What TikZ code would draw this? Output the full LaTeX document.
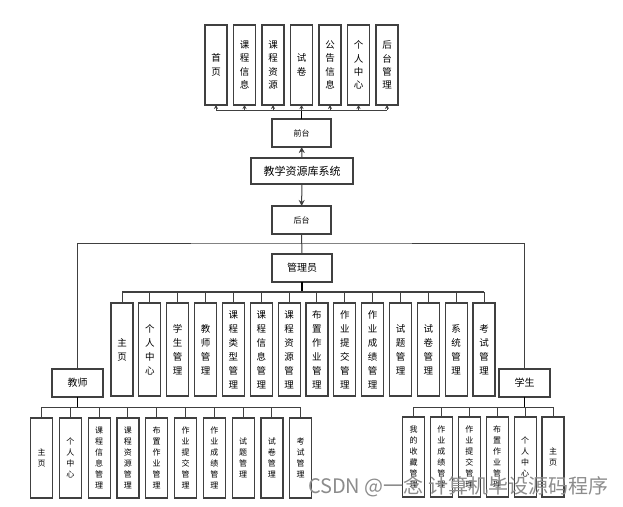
\documentclass[tikz,border=0pt]{standalone}
\usepackage{fontspec}
\newfontfamily\cjk{Noto Sans CJK SC}
\usetikzlibrary{arrows.meta, positioning, calc}

\begin{document}
\begin{tikzpicture}[x=1pt, y=-1pt,
    every node/.style={font=\cjk, inner sep=1pt, outer sep=0pt},
    framebox/.style={draw=black!75, line width=1.2pt, fill=white, align=center},
    sysbox/.style={framebox, minimum width=102pt, minimum height=26pt, font=\cjk\fontsize{11}{13}\selectfont},
    portbox/.style={framebox, minimum width=59pt, minimum height=28pt, font=\cjk\fontsize{8}{10}\selectfont},
    rolebox/.style={framebox, minimum height=28pt, font=\cjk\fontsize{10}{12}\selectfont},
    topfunc/.style={framebox, minimum width=22pt, minimum height=80pt, font=\cjk\fontsize{9.5}{13.3}\selectfont},
    adminfunc/.style={framebox, minimum width=22pt, minimum height=93pt, font=\cjk\fontsize{9.5}{14}\selectfont},
    userfunc/.style={framebox, minimum width=22pt, minimum height=80pt, font=\cjk\fontsize{8}{11}\selectfont},
    link/.style={draw=black!75, line width=1pt},
    trunk/.style={draw=black, line width=1.7pt}]
    \useasboundingbox (0,0) rectangle (623,506);

    % 系统 / 前台 / 后台
    \node[sysbox] (sys) at (302,171) {教学资源库系统};
    \node[portbox] (qt) at (301.5,133) {前台};
    \node[portbox] (ht) at (301.5,220) {后台};
    \draw[link, -{Stealth[length=6pt,width=6pt]}] (sys) -- (qt);
    \draw[link, -{Stealth[length=6pt,width=6pt]}] (sys) -- (ht);

    % 前台功能
    \node[topfunc] (f1) at (216,65) {首\\页};
    \node[topfunc] (f2) [right=6.5pt of f1] {课\\程\\信\\息};
    \node[topfunc] (f3) [right=6.5pt of f2] {课\\程\\资\\源};
    \node[topfunc] (f4) [right=6.5pt of f3] {试\\卷};
    \node[topfunc] (f5) [right=6.5pt of f4] {公\\告\\信\\息};
    \node[topfunc] (f6) [right=6.5pt of f5] {个\\人\\中\\心};
    \node[topfunc] (f7) [right=6.5pt of f6] {后\\台\\管\\理};

    \coordinate (fbus) at (301.5,110);
    \draw[trunk] (qt.north) -- (qt.north |- fbus);
    \draw[link] (f1.south |- fbus) -- (f7.south |- fbus);
    \foreach \i in {1,...,7}
        \draw[link, -{Stealth[length=4pt,width=4pt]}] (f\i.south |- fbus) -- (f\i.south);

    % 角色
    \node[rolebox, minimum width=60pt] (gly) at (302,268) {管理员};
    \node[rolebox, minimum width=51pt] (js) at (77.5,383) {教师};
    \node[rolebox, minimum width=51pt] (xs) at (524.5,383) {学生};

    \coordinate (rbus) at (302,243);
    \draw[link] (ht.south) -- (gly.north);
    \draw[link] (js.north) |- (rbus) -| (xs.north);

    % 管理员功能
    \node[adminfunc] (a1) at (122,349.5) {主\\页};
    \node[adminfunc] (a2) [right=5.85pt of a1] {个\\人\\中\\心};
    \node[adminfunc] (a3) [right=5.85pt of a2] {学\\生\\管\\理};
    \node[adminfunc] (a4) [right=5.85pt of a3] {教\\师\\管\\理};
    \node[adminfunc] (a5) [right=5.85pt of a4] {课\\程\\类\\型\\管\\理};
    \node[adminfunc] (a6) [right=5.85pt of a5] {课\\程\\信\\息\\管\\理};
    \node[adminfunc] (a7) [right=5.85pt of a6] {课\\程\\资\\源\\管\\理};
    \node[adminfunc] (a8) [right=5.85pt of a7] {布\\置\\作\\业\\管\\理};
    \node[adminfunc] (a9) [right=5.85pt of a8] {作\\业\\提\\交\\管\\理};
    \node[adminfunc] (a10) [right=5.85pt of a9] {作\\业\\成\\绩\\管\\理};
    \node[adminfunc] (a11) [right=5.85pt of a10] {试\\题\\管\\理};
    \node[adminfunc] (a12) [right=5.85pt of a11] {试\\卷\\管\\理};
    \node[adminfunc] (a13) [right=5.85pt of a12] {系\\统\\管\\理};
    \node[adminfunc] (a14) [right=5.85pt of a13] {考\\试\\管\\理};

    \coordinate (abus) at (302,292);
    \draw[trunk] (gly.south) -- (abus);
    \draw[link, line width=1.3pt] (a1.north |- abus) -- (a14.north |- abus);
    \foreach \i in {1,...,14}
        \draw[link] (a\i.north |- abus) -- (a\i.north);

    % 教师功能
    \node[userfunc] (k1) at (41.5,458) {主\\页};
    \node[userfunc] (k2) [right=6.8pt of k1] {个\\人\\中\\心};
    \node[userfunc] (k3) [right=6.8pt of k2] {课\\程\\信\\息\\管\\理};
    \node[userfunc] (k4) [right=6.8pt of k3] {课\\程\\资\\源\\管\\理};
    \node[userfunc] (k5) [right=6.8pt of k4] {布\\置\\作\\业\\管\\理};
    \node[userfunc] (k6) [right=6.8pt of k5] {作\\业\\提\\交\\管\\理};
    \node[userfunc] (k7) [right=6.8pt of k6] {作\\业\\成\\绩\\管\\理};
    \node[userfunc] (k8) [right=6.8pt of k7] {试\\题\\管\\理};
    \node[userfunc] (k9) [right=6.8pt of k8] {试\\卷\\管\\理};
    \node[userfunc] (k10) [right=6.8pt of k9] {考\\试\\管\\理};

    \coordinate (kbus) at (77.5,407);
    \draw[trunk] (js.south) -- (kbus);
    \draw[link] (k1.north |- kbus) -- (k10.north |- kbus);
    \foreach \i in {1,...,10}
        \draw[link] (k\i.north |- kbus) -- (k\i.north);

    % 学生功能
    \node[userfunc] (s1) at (413.5,457) {我\\的\\收\\藏\\管\\理};
    \node[userfunc] (s2) [right=5.9pt of s1] {作\\业\\成\\绩\\管\\理};
    \node[userfunc] (s3) [right=5.9pt of s2] {作\\业\\提\\交\\管\\理};
    \node[userfunc] (s4) [right=5.9pt of s3] {布\\置\\作\\业\\管\\理};
    \node[userfunc] (s5) [right=5.9pt of s4] {个\\人\\中\\心};
    \node[userfunc] (s6) [right=5.9pt of s5] {主\\页};

    \coordinate (sbus) at (524.5,407);
    \draw[trunk] (xs.south) -- (sbus);
    \draw[link] (s1.north |- sbus) -- (s6.north |- sbus);
    \foreach \i in {1,...,6}
        \draw[link] (s\i.north |- sbus) -- (s\i.north);

    % 水印
    \node[anchor=west, text=black!45, font=\cjk\fontsize{20}{22}\selectfont] (wm) at (307,487) {CSDN @一念 计算机毕设源码程序};
\end{tikzpicture}
\end{document}
